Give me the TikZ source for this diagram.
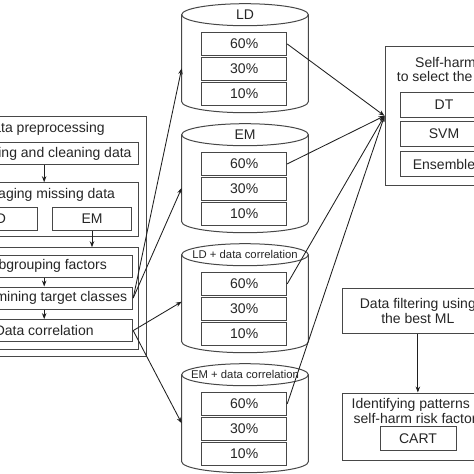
\documentclass[tikz,border=0pt]{standalone}
\usepackage{fontspec}
\setmainfont{Liberation Sans}
\usetikzlibrary{arrows.meta}
\tikzset{
  ln/.style={draw=black!72, line width=1pt},
  bx/.style={ln, rectangle, inner sep=0pt, text=black!85, font=\fontsize{14}{15}\selectfont},
  tx/.style={inner sep=0pt, text=black!85, font=\fontsize{14}{15}\selectfont},
  stx/.style={inner sep=0pt, text=black!85, font=\fontsize{11.3}{13}\selectfont},
  pct/.style={bx, minimum width=85pt, minimum height=22.5pt},
  arr/.style={draw=black!88, line width=0.85pt, -{Stealth[length=6pt,width=4.5pt]}},
}
\newcommand\drawcyl[4]{%
  \draw[ln] (181.7,#2-18) -- (181.7,#2+69) arc[start angle=180,end angle=360,x radius=63.3pt,y radius=11pt] -- (308.3,#2-18);
  \draw[ln] (245,#2-18) ellipse[x radius=63.3pt, y radius=11pt];
  \node[#4] (#1lab) at (245,#2-18) {#3};
  \node[pct] (#1a) at (244.2,#2+11.25) {60\%};
  \node[pct] (#1b) at (244.2,#2+36.25) {30\%};
  \node[pct] (#1c) at (244.2,#2+61.25) {10\%};
}
\begin{document}
\begin{tikzpicture}[x=1pt,y=-1pt]
\useasboundingbox (0,0) rectangle (474,474);
\fill[white] (0,0) rectangle (474,474);
\clip (0,0) rectangle (474,474);

% ---------- left panel ----------
\node[bx, minimum width=204.7pt, minimum height=240pt] (outer) at (44.35,236) {};
\node[tx] (title) at (44,129.3) {Data preprocessing};
\node[bx, minimum width=188.3pt, minimum height=22.3pt] (box1) at (44.15,153.8) {};
\node[tx, anchor=east] (box1t) at (131.7,153.8) {ing and cleaning data};
\node[bx, minimum width=188.3pt, minimum height=54pt] (box2) at (44.15,209.7) {};
\node[tx] (box2t) at (43,195) {Managing missing data};
\node[bx, minimum width=80.3pt, minimum height=22.3pt] (ldsub) at (-2.85,218.85) {LD};
\node[bx, minimum width=79.4pt, minimum height=22.3pt] (emsub) at (92,218.85) {EM};
\node[bx, minimum width=188.3pt, minimum height=101.3pt] (box3) at (44.15,298.35) {};
\node[bx, minimum width=177pt, minimum height=22pt] (sub1) at (44.2,266) {Subgrouping factors};
\node[bx, minimum width=177pt, minimum height=22pt] (sub2) at (44.2,298) {Determining target classes};
\node[bx, minimum width=177pt, minimum height=22pt] (sub3) at (44.2,330.6) {Data correlation};

\draw[arr] (box1.south) -- (box2.north);
\draw[arr] (emsub.south) -- (emsub.south |- box3.north);
\draw[arr] (sub1.south) -- (sub2.north);
\draw[arr] (sub2.south) -- (sub3.north);

% ---------- cylinders ----------
\drawcyl{ld}{32.7}{LD}{tx}
\drawcyl{em}{152.7}{EM}{tx}
\drawcyl{ldc}{272.7}{LD + data correlation}{stx}
\drawcyl{emc}{392.7}{EM + data correlation}{stx}
\coordinate (ldin) at (181.7,68.3);
\coordinate (emin) at (181.7,188);
\coordinate (ldcin) at (181.7,301.7);
\coordinate (emcin) at (181.7,423.3);

\draw[arr] (sub2.east) -- (ldin);
\draw[arr] (sub2.east) -- (emin);
\draw[arr] (sub3.east) -- (ldcin);
\draw[arr] (sub3.east) -- (emcin);

% ---------- right top panel ----------
\node[bx, minimum width=118pt, minimum height=138.3pt] (self) at (444,115.85) {};
\node[tx, anchor=west] (selft1) at (415,62.7) {Self-harm};
\node[tx, anchor=west] (selft2) at (396.7,76.7) {to select the};
\node[bx, minimum width=88pt, minimum height=25pt] (dt) at (444,104.5) {DT};
\node[bx, minimum width=88pt, minimum height=25pt] (svm) at (444,134) {SVM};
\node[bx, minimum width=88pt, minimum height=25pt] (ens) at (444,164) {Ensemble};

\draw[arr] (lda.east) -- (self.west);
\draw[arr] (ema.east) -- (self.west);
\draw[arr] (ldca.east) -- (self.west);
\draw[arr] (emca.east) -- (self.west);

% ---------- right bottom panel ----------
\node[bx, minimum width=150.3pt, minimum height=45pt, align=center] (filt) at (417.85,310.8) {Data filtering using\\the best ML};
\node[bx, minimum width=150.3pt, minimum height=67pt] (ident) at (417.85,426.5) {};
\node[tx, align=center] (identt) at (418.6,411) {Identifying patterns of\\self-harm risk factors};
\node[bx, minimum width=76pt, minimum height=23.3pt] (cart) at (418,438.35) {CART};
\draw[arr] (filt.south) -- (ident.north);
\end{tikzpicture}
\end{document}
